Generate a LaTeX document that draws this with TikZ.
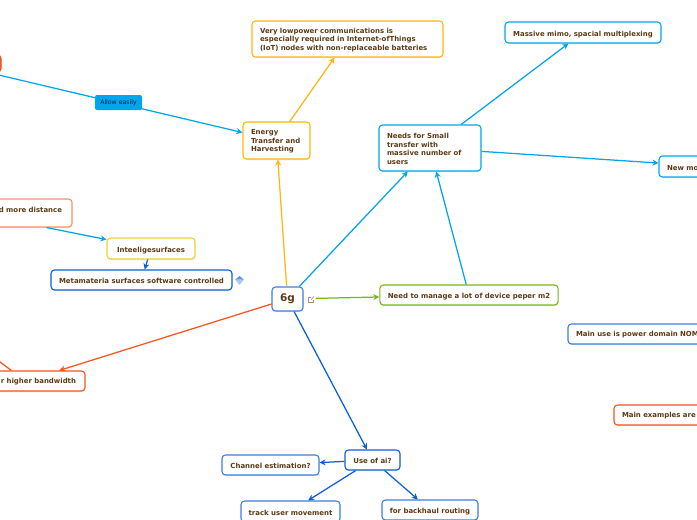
\documentclass[tikz,border=0pt]{standalone}
\usepackage{fontspec}
\setmainfont{DejaVu Sans}
\usetikzlibrary{arrows.meta,shadows}
\definecolor{txtbrown}{HTML}{5C3A14}
\definecolor{cOrange}{HTML}{FFB612}
\definecolor{cCyan}{HTML}{00A6ED}
\definecolor{cBlue}{HTML}{0B5FD8}
\definecolor{cRed}{HTML}{F9541F}
\definecolor{cGreen}{HTML}{7DB80F}
\definecolor{cYellow}{HTML}{EBD52B}
\newcommand{\firstline}{\rule{0pt}{7.2pt}}
\tikzset{
  mapbox/.style={draw=#1,line width=1.1pt,rounded corners=3.5pt,fill=white,inner xsep=8pt,inner ysep=0pt,
    text=txtbrown,font=\fontsize{6.95}{8.6}\selectfont\bfseries,
    general shadow={fill=black!55,opacity=.18,shadow xshift=0.3pt,shadow yshift=-1.2pt}},
  oneline/.style={text height=8.6pt,text depth=1.4pt},
  link/.style={line width=1.25pt,draw=#1,-{Stealth[length=6pt,width=6pt]}},
  plainlink/.style={line width=1.25pt,draw=#1},
}
\begin{document}
\begin{tikzpicture}[x=1pt,y=-1pt]
\useasboundingbox (0,0) rectangle (697,520);
\clip (0,0) rectangle (697,520);
\fill[white] (0,0) rectangle (697,520);
% nodes
\node[mapbox=cOrange,minimum width=191pt,minimum height=36pt,text width=175pt,align=left] (low) at (347.5,39) {\firstline Very lowpower communications is\\especially required in Internet-ofThings\\(IoT) nodes with non-replaceable batteries};
\node[mapbox=cOrange,minimum width=67pt,minimum height=37pt,text width=51pt,align=left] (energy) at (276.5,140.5) {\firstline Energy\\Transfer and\\Harvesting};
\node[mapbox=cCyan,oneline,minimum width=156pt,minimum height=21pt] (mimo) at (583,32.5) {Massive mimo, spacial multiplexing};
\node[mapbox=cCyan,minimum width=102pt,minimum height=46pt,text width=86pt,align=left] (needs) at (430,148) {\firstline Needs for Small\\transfer with\\massive number of\\users};
\node[mapbox=cCyan,minimum width=104pt,minimum height=21pt,text width=88pt,align=left] (newmo) at (711,166.5) {\firstline New mo};
\node[mapbox=cRed,fill=cRed,minimum width=102pt,minimum height=17pt] (redtop) at (-50,63.5) {};
\node[mapbox=cRed!65!white,minimum width=196pt,minimum height=28pt,text width=176pt,align=right,inner xsep=10pt] (dist) at (-26,213) {\firstline d more distance\\\mbox{}};
\node[mapbox=cYellow,oneline,minimum width=88pt,minimum height=21pt] (intel) at (151,248.5) {Inteeligesurfaces};
\node[mapbox=cBlue,oneline,minimum width=181pt,minimum height=20pt] (meta) at (141.5,280) {Metamateria surfaces software controlled};
\node[mapbox=cBlue!80!white,minimum width=31pt,minimum height=24pt,inner xsep=0pt,font=\fontsize{10.5}{12}\selectfont\bfseries] (six) at (287.5,299) {6g};
\node[mapbox=cGreen,oneline,minimum width=178pt,minimum height=20pt] (manage) at (469,295) {Need to manage a lot of device peper m2};
\node[mapbox=cBlue!80!white,minimum width=200pt,minimum height=20pt,text width=184pt,align=left] (noma) at (668,334) {\firstline Main use is power domain NOM};
\node[mapbox=cRed,minimum width=160pt,minimum height=20pt,text width=144pt,align=left] (examples) at (694,415) {\firstline Main examples are};
\node[mapbox=cRed,minimum width=119pt,minimum height=20pt,text width=101pt,align=right,inner xsep=9pt] (band) at (25.5,381) {\firstline r higher bandwidth};
\node[mapbox=cBlue,oneline,minimum width=55pt,minimum height=20pt,inner xsep=0pt] (ai) at (372.5,460) {Use of ai?};
\node[mapbox=cBlue!80!white,oneline,minimum width=97pt,minimum height=20pt,inner xsep=0pt] (chan) at (270.5,465) {Channel estimation?};
\node[mapbox=cBlue!80!white,oneline,minimum width=99pt,minimum height=21pt,inner xsep=0pt] (track) at (290.5,511.5) {track user movement};
\node[mapbox=cBlue!80!white,oneline,minimum width=96pt,minimum height=20pt,inner xsep=0pt] (back) at (430,510) {for backhaul routing};
\coordinate (offred) at (-40,332);
% connectors
\draw[link=cCyan] (redtop) -- (energy);
\draw[link=cOrange] (energy) -- (low);
\draw[link=cOrange] (six) -- (energy);
\draw[link=cCyan] (needs) -- (mimo);
\draw[link=cCyan] (needs) -- (newmo);
\draw[link=cCyan] (six) -- (needs);
\draw[link=cCyan] (manage) -- (needs);
\draw[link=cCyan] (dist) -- (intel);
\draw[link=cBlue] (intel) -- (meta);
\draw[link=cRed] (six) -- (band);
\draw[plainlink=cRed] (band) -- (offred);
\draw[link=cGreen,shorten <=12pt] (six) -- (manage);
\draw[link=cBlue] (six) -- (ai);
\draw[link=cBlue] (ai) -- (chan);
\draw[link=cBlue] (ai) -- (track);
\draw[link=cBlue] (ai) -- (back);
% label on connector
\node[fill=cCyan,rounded corners=2pt,minimum width=47pt,minimum height=15pt,inner sep=0pt,text=black!70!cBlue,font=\fontsize{6.2}{7}\selectfont] (allow) at (118.5,102.5) {Allow easily};
% topic icons
\draw[draw=txtbrown!55!white,line width=.7pt] (311,297) -- (308.5,297) -- (308.5,302) -- (313.5,302) -- (313.5,299.5);
\draw[draw=txtbrown!55!white,line width=.7pt] (311,299.5) -- (314,296.5);
\fill[cBlue!65!white] (235,279.5) -- (239.5,276) -- (244,279.5) -- cycle;
\fill[cBlue!35!white] (235.5,280) -- (243.5,280) -- (239.5,285) -- cycle;
\end{tikzpicture}
\end{document}
